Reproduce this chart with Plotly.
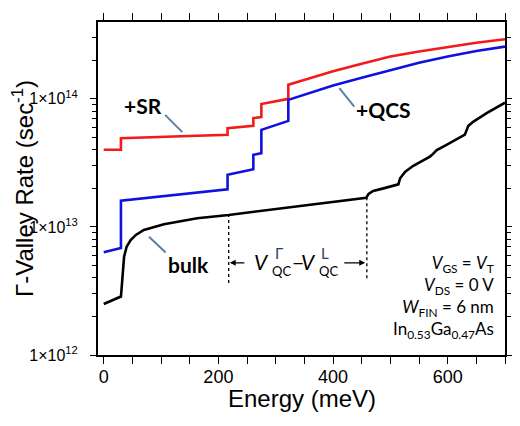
import plotly.graph_objects as go

# energies (meV) and Gamma-valley rates (1/s)
sr_energy = [0, 30, 30, 216, 216, 261, 261, 275, 275, 322, 322, 360, 400, 450, 500, 550, 600, 650, 700]
sr_rate = [4.0e13, 4.0e13, 4.93e13, 5.24e13, 5.90e13, 6.15e13, 7.07e13, 7.20e13, 9.10e13, 1.00e14,
           1.29e14, 1.45e14, 1.64e14, 1.88e14, 2.14e14, 2.34e14, 2.54e14, 2.74e14, 2.92e14]

qcs_energy = [0, 30, 30, 216, 216, 261, 261, 275, 275, 322, 322, 360, 400, 450, 500, 550, 600, 650, 700]
qcs_rate = [6.34e12, 6.86e12, 1.60e13, 1.97e13, 2.55e13, 2.82e13, 3.65e13, 3.77e13, 5.73e13, 6.73e13,
            9.82e13, 1.12e14, 1.27e14, 1.46e14, 1.68e14, 1.91e14, 2.14e14, 2.36e14, 2.56e14]

bulk_energy = [0, 30, 31, 33, 35.5, 40, 47, 56, 70, 105, 163, 218, 300, 412, 458, 462, 470, 488,
               514, 517, 526, 540, 569, 574, 581, 598, 630, 636, 645, 668, 700]
bulk_rate = [2.50e12, 2.86e12, 3.22e12, 4.09e12, 5.86e12, 7.01e12, 7.91e12, 8.66e12, 9.48e12, 1.05e13,
             1.17e13, 1.24e13, 1.38e13, 1.58e13, 1.69e13, 1.81e13, 1.91e13, 2.00e13, 2.15e13, 2.40e13,
             2.70e13, 3.00e13, 3.54e13, 3.70e13, 3.98e13, 4.37e13, 5.25e13, 6.15e13, 6.65e13, 7.73e13, 9.33e13]

# valley separation markers (energy, bulk rate at top, rate at bottom)
qc_marks = [218, 459]
qc_mark_top = [1.24e13, 1.70e13]
qc_mark_bottom = [3.65e12, 3.98e12]

x_tickvals = list(range(0, 701, 50))
x_ticktext = [str(v) if v % 200 == 0 else "" for v in x_tickvals]
y_tickvals = [1e12, 1e13, 1e14]
y_ticktext = ["1×10<sup>12</sup>", "1×10<sup>13</sup>", "1×10<sup>14</sup>"]
y_minor = [k * 10 ** e for e in (12, 13, 14) for k in range(2, 10)]

fig = go.Figure()
fig.add_trace(go.Scatter(x=sr_energy, y=sr_rate, mode="lines", line=dict(color="#f21a1a", width=2.6)))
fig.add_trace(go.Scatter(x=qcs_energy, y=qcs_rate, mode="lines", line=dict(color="#1010e0", width=2.6)))
fig.add_trace(go.Scatter(x=bulk_energy, y=bulk_rate, mode="lines", line=dict(color="black", width=2.6)))

lead = "#5a7fa8"
txt = dict(family="Lato", size=21, color="black")
big_v = dict(family="Lato", size=21, color="black")
sub = dict(family="Lato", size=13, color="black")

# dashed markers down from the bulk curve
for e, top, bot in zip(qc_marks, qc_mark_top, qc_mark_bottom):
    fig.add_shape(type="line", x0=e, x1=e, y0=bot, y1=top,
                  line=dict(color="black", width=1.3, dash="3px,3px"))

# leader lines from the labels to the curves
fig.add_shape(type="line", x0=107, y0=7.50e13, x1=137, y1=5.50e13, line=dict(color=lead, width=2))
fig.add_shape(type="line", x0=411, y0=1.21e14, x1=437, y1=8.71e13, line=dict(color=lead, width=2))
fig.add_shape(type="line", x0=79, y0=8.39e12, x1=108, y1=6.31e12, line=dict(color=lead, width=2))

fig.add_annotation(x=69, y=13.945, text="<b>+SR</b>", showarrow=False, font=txt)
fig.add_annotation(x=488, y=13.914, text="<b>+QCS</b>", showarrow=False, font=txt)
fig.add_annotation(x=148, y=12.71, text="<b>bulk</b>", showarrow=False, font=txt)

# arrows between the dashed markers
fig.add_annotation(x=220, y=12.72, ax=248, ay=12.72, axref="x", ayref="y", text="",
                   showarrow=True, arrowhead=2, arrowsize=0.9, arrowwidth=1.3, arrowcolor="black")
fig.add_annotation(x=456, y=12.72, ax=417, ay=12.72, axref="x", ayref="y", text="",
                   showarrow=True, arrowhead=2, arrowsize=0.9, arrowwidth=1.3, arrowcolor="black")

# V_QC^Gamma - V_QC^L label, pieces stacked by hand
fig.add_annotation(x=292, y=12.727, text="<i>V</i>", showarrow=False, font=big_v, xanchor="right")
fig.add_annotation(x=290, y=12.655, text="QC", showarrow=False, font=sub, xanchor="left")
fig.add_annotation(x=305, y=12.80, text="Γ", showarrow=False, font=dict(family="Lato", size=15), xanchor="center")
fig.add_annotation(x=339, y=12.72, text="−", showarrow=False, font=big_v)
fig.add_annotation(x=374, y=12.727, text="<i>V</i>", showarrow=False, font=big_v, xanchor="right")
fig.add_annotation(x=372, y=12.655, text="QC", showarrow=False, font=sub, xanchor="left")
fig.add_annotation(x=386, y=12.80, text="L", showarrow=False, font=dict(family="Lato", size=15), xanchor="center")

fig.add_annotation(x=684, y=12.453, xanchor="right", yanchor="middle", align="right", showarrow=False,
                   font=dict(family="Lato", size=17, color="black"),
                   text="<i>V</i><sub>GS</sub> = <i>V</i><sub>T</sub><br>"
                        "<i>V</i><sub>DS</sub> = 0 V<br>"
                        "<i>W</i><sub>FIN</sub> = 6 nm<br>"
                        "In<sub>0.53</sub>Ga<sub>0.47</sub>As")

axis_font = dict(family="Liberation Sans, Arial", color="black")

# x title placed by hand, just under the tick labels
fig.add_annotation(x=0.5, y=-0.13, xref="paper", yref="paper", text="Energy (meV)", showarrow=False,
                   yanchor="middle", font=dict(size=24, **axis_font))

fig.update_xaxes(range=[-10, 700], showgrid=False, zeroline=False, showline=True, linecolor="black",
                 linewidth=2, mirror="allticks", ticks="outside", ticklen=7, tickwidth=1,
                 tickcolor="black", tickvals=x_tickvals, ticktext=x_ticktext, automargin=False,
                 ticklabelstandoff=-3, tickfont=dict(size=18, **axis_font))
fig.update_yaxes(type="log", range=[12, 14.6], showgrid=False, zeroline=False, showline=True,
                 linecolor="black", linewidth=2, mirror="allticks", ticks="outside", ticklen=6,
                 tickwidth=1, tickcolor="black", tickvals=y_tickvals, ticktext=y_ticktext,
                 ticklabelstandoff=9, automargin=False,
                 minor=dict(tickmode="array", tickvals=y_minor, ticks="outside", ticklen=4,
                            tickwidth=1, tickcolor="black"),
                 tickfont=dict(size=16, **axis_font),
                 title=dict(text="Γ-Valley Rate (sec<sup>-1</sup>)", font=dict(size=24, **axis_font),
                            standoff=4))

# page body keeps its default 8 px margin, so the figure is 8 px smaller and shifted
fig.update_layout(width=512, height=418, showlegend=False, plot_bgcolor="white", paper_bgcolor="white",
                  margin=dict(l=90, r=15, t=14, b=71))

fig.write_html("out.html")
